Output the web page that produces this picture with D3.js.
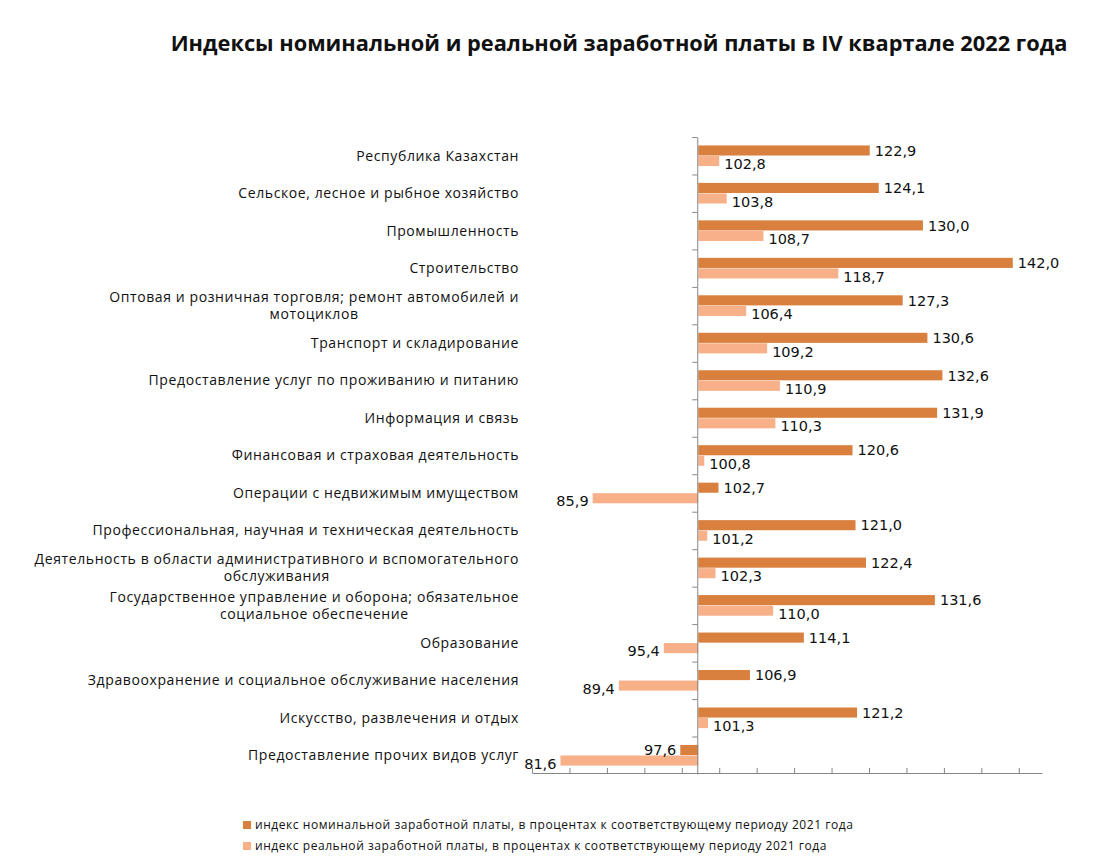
<!DOCTYPE html>
<html>
<head>
<meta charset="utf-8">
<script src="https://cdn.jsdelivr.net/npm/d3@7"></script>
<style>
  body { margin: 0; background: #fff; }
  svg text { fill: #111; }
  .cat { font-family: "Open Sans", sans-serif; font-size: 14px; letter-spacing: 0.6px; }
  .val { font-family: "DejaVu Sans", Verdana, sans-serif; font-size: 14.5px; }
  .legend { font-family: "Open Sans", sans-serif; font-size: 12px; letter-spacing: 0.55px; }
  .title { font-family: "Open Sans", sans-serif; font-size: 21.8px; font-weight: bold; }
  .axis path, .axis line { stroke: #868686; }
</style>
</head>
<body>
<svg id="chart" width="1120" height="861"></svg>
<script>
const categories = [
  'Республика Казахстан',
  'Сельское, лесное и рыбное хозяйство',
  'Промышленность',
  'Строительство',
  'Оптовая и розничная торговля; ремонт автомобилей и\nмотоциклов',
  'Транспорт и складирование',
  'Предоставление услуг по проживанию и питанию',
  'Информация и связь',
  'Финансовая и страховая деятельность',
  'Операции с недвижимым имуществом',
  'Профессиональная, научная и техническая деятельность',
  'Деятельность в области административного и вспомогательного\nобслуживания',
  'Государственное управление и оборона; обязательное\nсоциальное обеспечение',
  'Образование',
  'Здравоохранение и социальное обслуживание населения',
  'Искусство, развлечения и отдых',
  'Предоставление прочих видов услуг'
];
const nominal = [122.9, 124.1, 130.0, 142.0, 127.3, 130.6, 132.6, 131.9, 120.6, 102.7, 121.0, 122.4, 131.6, 114.1, 106.9, 121.2, 97.6];
const real    = [102.8, 103.8, 108.7, 118.7, 106.4, 109.2, 110.9, 110.3, 100.8, 85.9, 101.2, 102.3, 110.0, 95.4, 89.4, 101.3, 81.6];
const seriesNames = [
  'индекс номинальной заработной платы, в процентах к соответствующему периоду 2021 года',
  'индекс реальной заработной платы, в процентах к соответствующему периоду 2021 года'
];
const colors = ['#d9803e', '#f8b089'];
const BASE = 100;

const svg = d3.select('#chart');
const fmt = v => v.toFixed(1).replace('.', ',');

svg.append('text').attr('class', 'title')
  .attr('x', 619).attr('y', 51).attr('text-anchor', 'middle')
  .text('Индексы номинальной и реальной заработной платы в IV квартале 2022 года');

const x = d3.scaleLinear().domain([77.8, 145.9]).range([532, 1042]);
const y = d3.scaleBand().domain(d3.range(categories.length)).range([137, 774]).padding(0);
const sub = d3.scaleBand().domain([0, 1]).range([0, y.bandwidth()]).paddingOuter(0.8).paddingInner(0.04);

const rows = categories.map((c, i) => ({ i, c, vals: [nominal[i], real[i]] }));

const g = svg.append('g');
const row = g.selectAll('g.row').data(rows).enter().append('g')
  .attr('transform', d => `translate(0,${y(d.i)})`);

row.selectAll('rect').data(d => d.vals).enter().append('rect')
  .attr('x', v => x(Math.min(v, BASE)))
  .attr('width', v => Math.abs(x(v) - x(BASE)))
  .attr('y', (v, k) => sub(k))
  .attr('height', sub.bandwidth())
  .attr('fill', (v, k) => colors[k]);

row.selectAll('text.val').data(d => d.vals).enter().append('text')
  .attr('class', 'val')
  .attr('x', v => v >= BASE ? x(v) + 5 : x(v) - 4)
  .attr('y', (v, k) => sub(k) + sub.bandwidth() / 2 + (k ? 3 : 0))
  .attr('dy', '0.36em')
  .attr('text-anchor', v => v >= BASE ? 'start' : 'end')
  .text(fmt);

// category labels: block right-aligned, lines centred inside it
row.each(function (d) {
  const lines = d.c.split('\n');
  const t = d3.select(this).append('g');
  const texts = lines.map((ln, k) => t.append('text').attr('class', 'cat')
    .attr('y', y.bandwidth() / 2 + (k - (lines.length - 1) / 2) * 17)
    .attr('dy', '0.35em').attr('text-anchor', 'middle').text(ln));
  const w = d3.max(texts, s => s.node().getComputedTextLength());
  texts.forEach(s => s.attr('x', 519 - w / 2));
});

// value axis along the bottom, ticks pointing up
svg.append('g').attr('class', 'axis')
  .attr('transform', 'translate(0,773)')
  .call(d3.axisBottom(x).tickValues(d3.range(77.8, 145, 5)).tickSize(-5).tickSizeOuter(0).tickFormat(''));

// category axis at 100 with ticks between categories
const yb = d3.scaleLinear().domain([0, categories.length]).range([137, 774]);
svg.append('g').attr('class', 'axis')
  .attr('transform', `translate(${x(BASE) - 1},0)`)
  .call(d3.axisLeft(yb).tickValues(d3.range(0, categories.length)).tickSize(5).tickSizeOuter(0).tickFormat(''));

// legend
const lg = svg.append('g').selectAll('g').data(seriesNames).enter().append('g')
  .attr('transform', (d, k) => `translate(243,${825 + k * 21})`);
lg.append('rect').attr('x', 0).attr('y', -4).attr('width', 8).attr('height', 8)
  .attr('fill', (d, k) => colors[k]);
lg.append('text').attr('class', 'legend').attr('x', 12).attr('dy', '0.35em').text(d => d);
</script>
</body>
</html>
